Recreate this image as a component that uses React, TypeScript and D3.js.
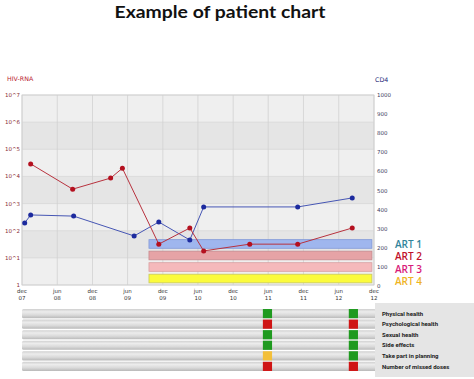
import React from "react";
import * as d3 from "d3";

// ---- data ----
const xTickDates = ["2007-12-01","2008-06-01","2008-12-01","2009-06-01","2009-12-01","2010-06-01","2010-12-01","2011-06-01","2011-12-01","2012-06-01","2012-12-01"];
const hivTickValues = [1, 10, 100, 1000, 10000, 100000, 1000000, 10000000];
const hivTickLabels = ["1", "10^1", "10^2", "10^3", "10^4", "10^5", "10^6", "10^7"];
const cd4TickValues = [0, 100, 200, 300, 400, 500, 600, 700, 800, 900, 1000];

const hivDates = ["2008-01-15","2008-08-20","2009-03-05","2009-05-05","2009-11-10","2010-04-20","2010-07-01","2011-02-25","2011-11-01","2012-08-10"];
const hivValues = [29000, 3400, 8700, 20000, 32, 126, 18, 32, 32, 126];

const cd4Dates = ["2007-12-15","2008-01-15","2008-08-25","2009-07-05","2009-11-10","2010-04-20","2010-07-01","2011-11-01","2012-08-10"];
const cd4Values = [330, 372, 366, 262, 335, 241, 414, 414, 461];

const artNames = ["ART 1", "ART 2", "ART 3", "ART 4"];
const artStart = ["2009-09-20", "2009-09-20", "2009-09-20", "2009-09-20"];
const artEnd = ["2012-11-20", "2012-11-20", "2012-11-20", "2012-11-20"];
const artFill = ["#9fb6ee", "#e6a3a6", "#f5b9bb", "#fbfb3c"];
const artStroke = ["#8098d8", "#c88a8e", "#d8a0a2", "#c8c860"];
const artText = ["#31849b", "#c0102a", "#d81b7a", "#efb41f"];

const wellbeingRows = ["Physical health","Psychological health","Sexual health","Side effects","Take part in planning","Number of missed doses"];
const visitDates = ["2011-05-28", "2012-08-16"];
const statusVisit1 = ["green","red","green","green","yellow","red"];
const statusVisit2 = ["green","red","green","green","green","red"];
const statusColor: Record<string, string> = { green: "#1f9a1f", red: "#cf1515", yellow: "#f3bf3a" };

const parse = d3.timeParse("%Y-%m-%d");
const fmtMon = d3.timeFormat("%b");
const fmtYr = d3.timeFormat("%y");

export default function App() {
  const W = 474, H = 379;
  const x = d3.scaleTime()
    .domain([parse(xTickDates[0])!, parse(xTickDates[xTickDates.length - 1])!])
    .range([22, 374]);
  const yHiv = d3.scaleLog().domain([1, 1e7]).range([285, 95]);
  const yCd4 = d3.scaleLinear().domain([0, 1000]).range([286, 95]);
  const artBand = d3.scaleBand().domain(artNames).range([238.5, 284]).paddingInner(0.25).paddingOuter(0.1);
  const artLabel = d3.scalePoint().domain(artNames).range([244.3, 281.8]);
  const rowBand = d3.scaleBand().domain(wellbeingRows).range([308.5, 371.5]).paddingInner(0.13).paddingOuter(0.05);

  const hivPts = hivDates.map((d, i) => [x(parse(d)!), yHiv(hivValues[i])] as [number, number]);
  const cd4Pts = cd4Dates.map((d, i) => [x(parse(d)!), yCd4(cd4Values[i])] as [number, number]);
  const line = d3.line();

  const bands = d3.range(hivTickValues.length - 1).map(i => ({
    y0: yHiv(hivTickValues[i + 1]), y1: yHiv(hivTickValues[i]), idx: hivTickValues.length - 2 - i,
  }));

  const sq = rowBand.bandwidth();
  const visits = [statusVisit1, statusVisit2];

  return (
    <svg width={W} height={H} style={{ position: "absolute", left: 0, top: 0, background: "#fff" }}
      fontFamily="'DejaVu Sans', sans-serif">
      <defs>
        <linearGradient id="rowGrad" x1="0" y1="0" x2="0" y2="1">
          <stop offset="0" stopColor="#cfcfcf" />
          <stop offset="0.3" stopColor="#ececec" />
          <stop offset="0.65" stopColor="#dadada" />
          <stop offset="1" stopColor="#b9b9b9" />
        </linearGradient>
      </defs>
      <text x={220} y={17.5} textAnchor="middle" fontFamily="Lato, 'Open Sans', sans-serif" fontWeight={700}
        fontSize={17.5} textLength={211} lengthAdjust="spacingAndGlyphs" fill="#111">Example of patient chart</text>

      {/* plot background bands */}
      {bands.map((b, i) => (
        <rect key={i} x={22} y={b.y0} width={352} height={b.y1 - b.y0} fill={b.idx % 2 === 0 ? "#efefef" : "#e5e5e5"} />
      ))}
      {hivTickValues.map((v, i) => (
        <line key={"h" + i} x1={22} x2={374} y1={yHiv(v)} y2={yHiv(v)} stroke="#d6d6d6" strokeWidth={0.8} />
      ))}
      {xTickDates.map((d, i) => (
        <line key={"v" + i} x1={x(parse(d)!)} x2={x(parse(d)!)} y1={95} y2={285} stroke="#d2d2d2" strokeWidth={0.8} />
      ))}
      <rect x={22} y={95} width={352} height={190} fill="none" stroke="#cfcfcf" strokeWidth={0.8} />

      {/* axis titles */}
      <text x={7} y={81} fontSize={6.3} fill="#b8202e">HIV-RNA</text>
      <text x={375} y={82} fontSize={6.3} fill="#25287a">CD4</text>

      {hivTickValues.map((v, i) => (
        <text key={"hl" + i} x={20} y={yHiv(v) + 2} textAnchor="end" fontSize={5.5} fill="#8a2a35">{hivTickLabels[i]}</text>
      ))}
      {cd4TickValues.map((v, i) => (
        <text key={"cl" + i} x={377} y={yCd4(v) + 2} fontSize={5.5} fill="#404060">{v}</text>
      ))}
      {xTickDates.map((d, i) => {
        const dt = parse(d)!;
        return (
          <g key={"xl" + i}>
            <text x={x(dt)} y={293} textAnchor="middle" fontSize={5.5} fill="#333">{fmtMon(dt).toLowerCase()}</text>
            <text x={x(dt)} y={299.5} textAnchor="middle" fontSize={5.5} fill="#333">{fmtYr(dt)}</text>
          </g>
        );
      })}

      {/* ART bars */}
      {artNames.map((n, i) => (
        <g key={n}>
          <rect x={x(parse(artStart[i])!)} y={artBand(n)!} width={x(parse(artEnd[i])!) - x(parse(artStart[i])!)}
            height={artBand.bandwidth()} fill={artFill[i]} stroke={artStroke[i]} strokeWidth={0.8} />
          <text x={395} y={artLabel(n)! + 3.6} fontFamily="'Open Sans', sans-serif" fontWeight={600} fontSize={10} fill={artText[i]}>{n}</text>
        </g>
      ))}

      {/* lines */}
      <path d={line(cd4Pts)!} fill="none" stroke="#4656b4" strokeWidth={1} />
      <path d={line(hivPts)!} fill="none" stroke="#b8323e" strokeWidth={1} />
      {cd4Pts.map((p, i) => <circle key={"cp" + i} cx={p[0]} cy={p[1]} r={2.5} fill="#1c2a9e" />)}
      {hivPts.map((p, i) => <circle key={"hp" + i} cx={p[0]} cy={p[1]} r={2.5} fill="#b4101f" />)}

      {/* wellbeing rows */}
      {wellbeingRows.map(r => (
        <rect key={r} x={22} y={rowBand(r)!} width={354} height={sq} rx={1.5} fill="url(#rowGrad)" />
      ))}
      <rect x={375} y={303} width={99} height={74} fill="#e5e5e5" />
      {wellbeingRows.map(r => (
        <text key={"t" + r} x={382} y={rowBand(r)! + sq / 2 + 2.2} fontFamily="Roboto, sans-serif" fontWeight={700}
          fontSize={6} fill="#222">{r}</text>
      ))}
      {visits.map((vals, vi) => wellbeingRows.map((r, ri) => (
        <rect key={vi + "-" + r} x={x(parse(visitDates[vi])!) - sq / 2} y={rowBand(r)!} width={sq} height={sq}
          fill={statusColor[vals[ri]]} />
      )))}
    </svg>
  );
}
